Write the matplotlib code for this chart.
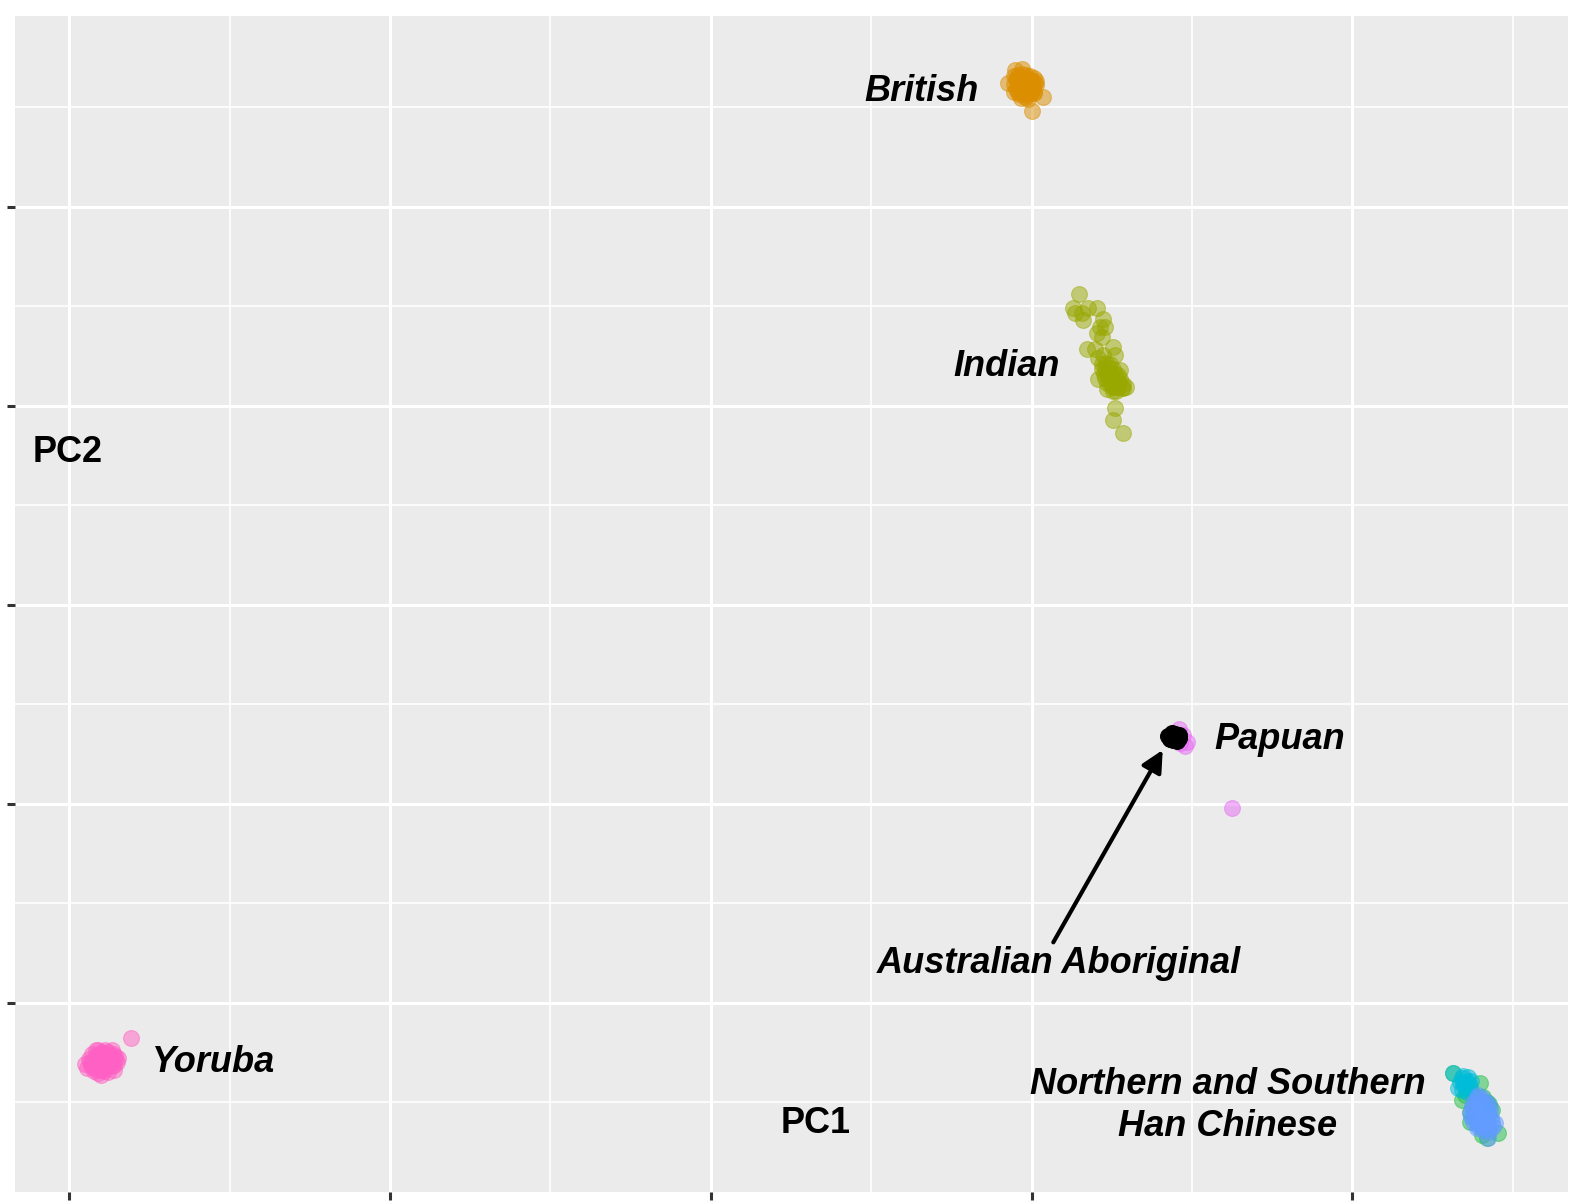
import matplotlib
matplotlib.use("Agg")
import matplotlib.pyplot as plt

plt.rcParams['font.family'] = ['Liberation Sans', 'DejaVu Sans']

# PC scores (x 1000)
british_x = [50.0, 51.8, 46.35, 47.4, 48.44, 47.3, 47.9, 48.5, 49.1, 49.7, 50.3, 47.5, 48.1, 48.7, 49.3, 49.9, 50.5,
             47.2, 47.8, 48.4, 49.0, 49.6, 50.2, 47.6, 48.2, 48.8, 49.4, 50.0, 48.0, 48.6, 49.2, 49.8, 48.4, 49.0, 49.5,
             50.6, 50.4, 50.7, 47.3, 47.7, 48.3, 48.9, 49.5, 50.1, 48.0, 48.6, 49.2, 49.8, 47.9, 48.5, 49.1, 49.7, 50.3]
british_y = [124.1, 127.7, 131.0, 134.4, 134.7, 132.8, 133.2, 133.4, 133.2, 132.8, 132.3, 132.0, 132.3, 132.0, 132.4, 131.9, 131.2,
             130.8, 130.7, 131.0, 130.5, 130.8, 130.0, 129.5, 129.7, 129.4, 129.6, 129.2, 128.4, 128.5, 128.2, 128.4, 127.3, 127.5, 127.2,
             130.5, 128.5, 131.5, 128.9, 131.5, 131.7, 131.5, 131.2, 131.0, 130.2, 130.0, 130.2, 130.1, 128.9, 128.8, 128.9, 129.0, 128.9]

indian_x = [57.42, 56.49, 56.75, 57.78, 58.04, 58.82, 60.23, 61.16, 60.64, 61.42, 60.12, 60.9, 58.56, 59.86, 62.72, 62.98,
            60.38, 61.16, 63.76, 60.28, 64.28, 62.98, 62.62, 64.28,
            61.0, 61.6, 62.2, 60.9, 61.5, 62.1, 62.7, 61.2, 61.8, 62.4, 63.0, 63.5, 61.4, 62.0, 62.6, 63.2, 63.8,
            61.8, 62.4, 63.0, 63.6, 64.2, 62.3, 62.9, 63.4, 64.0, 62.6, 63.2, 61.7, 64.7]
indian_y = [78.07, 74.64, 73.22, 73.22, 71.54, 74.47, 74.47, 71.71, 69.87, 69.87, 68.19, 67.35, 64.25, 64.25, 64.84, 62.74,
            61.91, 62.74, 58.98, 56.63, 54.53, 49.34, 46.41, 43.23,
            60.5, 60.8, 60.5, 59.2, 59.3, 59.4, 59.2, 58.0, 58.1, 58.0, 58.0, 57.8, 56.9, 56.9, 56.8, 56.8, 56.6,
            55.8, 55.8, 55.7, 55.6, 55.5, 54.9, 54.7, 54.6, 54.5, 53.8, 53.6, 54.2, 54.6]

han_s_x = [115.72, 119.87, 117.01, 120.91, 121.69, 118.31, 122.73, 120.91, 120.13, 118.31, 117.6, 118.6, 121.2, 120.4]
han_s_y = [-117.77, -120.12, -124.47, -124.89, -126.99, -129.92, -132.85, -134.1, -133.27, -127.4, -123.3, -122.6, -125.6, -123.6]

han_n_x = [115.72, 117.27, 118.05, 116.75, 117.53, 118.31, 117.01, 117.79, 116.49, 117.0, 117.9, 118.4, 117.3, 117.7, 118.2]
han_n_y = [-117.6, -118.36, -118.6, -119.86, -120.7, -121.1, -121.96, -122.4, -121.54, -119.0, -119.8, -119.7, -120.2, -121.4, -120.4]

chinese_x = [119.61, 118.83, 120.39, 118.31, 119.61, 121.17, 118.83, 120.13, 121.69, 119.35, 120.65, 121.95, 121.17, 122.21,
             119.2, 120.0, 120.8, 118.7, 119.3, 120.4, 121.5, 119.0, 119.9, 120.9, 120.5, 119.7, 120.9, 121.3,
             119.5, 120.2, 121.0, 118.6, 119.1, 119.8, 120.6, 121.4, 118.5, 119.4, 120.3, 121.1, 119.2, 120.0, 120.8, 121.6, 119.6, 120.4, 121.2]
chinese_y = [-123.22, -125.31, -125.73, -127.82, -127.4, -127.82, -129.92, -129.5, -129.92, -131.59, -131.59, -131.17, -134.1, -130.34,
             -124.3, -124.6, -124.9, -126.4, -126.2, -126.5, -126.3, -128.9, -128.5, -128.8, -130.6, -130.7, -130.5, -132.6,
             -123.8, -123.9, -125.2, -125.9, -127.0, -126.8, -127.1, -127.2, -128.7, -128.2, -128.0, -128.3, -129.6, -129.9, -129.2, -129.0, -131.0, -131.9, -131.8]

yoruba_x = [-90.38, -97.55, -97.3, -96.9, -96.5, -96.4, -96.2, -95.9, -95.5, -95.4, -95.2, -95.0, -94.9, -94.5, -94.4,
            -94.3, -94.0, -93.9, -93.5, -93.4, -93.3, -93.0, -92.8, -92.5, -92.4, -96.0, -95.0, -94.2, -95.6, -94.7, -93.7,
            -96.8, -96.3, -95.8, -95.3, -94.8, -94.3, -93.8, -93.2, -92.9, -96.6, -96.1, -95.5, -94.9, -94.4, -93.6, -93.1, -95.8, -95.2, -94.6]
yoruba_y = [-108.97, -115.4, -116.5, -114.2, -113.0, -115.6, -117.2, -112.0, -111.9, -114.0, -116.0, -118.2, -112.5, -111.9, -113.8,
            -115.6, -117.4, -112.4, -114.2, -116.0, -112.0, -117.0, -113.5, -115.0, -113.9, -116.8, -113.0, -114.7, -117.6, -116.6, -115.0,
            -115.0, -114.5, -113.3, -112.8, -113.6, -112.9, -113.2, -113.0, -114.2, -115.9, -115.2, -115.0, -115.3, -116.1, -115.5, -115.8, -116.2, -117.0, -117.2]

papuan_x = [81.27, 73.01, 74.15, 73.89, 73.11, 73.63]
papuan_y = [-51.18, -31.32, -34.42, -35.51, -34.84, -32.75]

aboriginal_x = [71.24, 71.81, 72.33, 73.01, 72.07, 71.55, 72.59, 73.01]
aboriginal_y = [-33.0, -32.33, -32.58, -33.58, -34.0, -33.83, -34.25, -32.75]

x_major = [-100, -50, 0, 50, 100]
x_minor = [-75, -25, 25, 75, 125]
y_major = [-100, -50, 0, 50, 100]
y_minor = [-125, -75, -25, 25, 75, 125]

fig = plt.figure(figsize=(15.8, 12.04), dpi=100)
ax = fig.add_axes([15 / 1580, 12 / 1204, 1553 / 1580, 1176 / 1204])
ax.set_facecolor('#EBEBEB')
for s in ax.spines.values():
    s.set_visible(False)
ax.set_xlim(-108.46, 133.59)
ax.set_ylim(-147.59, 147.94)
ax.set_xticks(x_major)
ax.set_yticks(y_major)
ax.set_xticks(x_minor, minor=True)
ax.set_yticks(y_minor, minor=True)
ax.set_xticklabels([])
ax.set_yticklabels([])
ax.tick_params(which='major', length=5.8, width=2.2, color='#333333')
ax.tick_params(which='minor', length=0)
ax.grid(which='major', color='white', linewidth=2.2)
ax.grid(which='minor', color='white', linewidth=1.2)
ax.set_axisbelow(True)

S = 130
def pts(x, y, c, alpha=0.5):
    ax.scatter(x, y, s=S, c=c, alpha=alpha, linewidths=0.8, edgecolors=c, zorder=3)

pts(british_x, british_y, '#DB8E00')
pts(indian_x, indian_y, '#99A800')
pts(han_s_x, han_s_y, '#1FBF45')
pts(han_n_x, han_n_y, '#00BCD8')
pts(chinese_x, chinese_y, '#619CFF')
pts(yoruba_x, yoruba_y, '#FF61C3')
pts(papuan_x, papuan_y, '#E76BF3')
pts(aboriginal_x, aboriginal_y, 'black', alpha=1)

ax.annotate('', xy=(70.42, -36.51), xytext=(53.37, -84.85),
            arrowprops=dict(arrowstyle='-|>,head_length=1.3,head_width=0.65', color='black',
                            lw=3.0, shrinkA=0, shrinkB=0, mutation_scale=10), zorder=4)

lab = dict(fontsize=26, fontweight='bold', fontstyle='italic', ha='center', va='center', color='black', zorder=5)
ax.text(32.8, 129.05, 'British', **lab)
ax.text(46.06, 59.81, 'Indian', **lab)
ax.text(88.6, -33.85, 'Papuan', **lab)
ax.text(54.2, -90.05, 'Australian Aboriginal', **lab)
ax.text(-77.5, -115.15, 'Yoruba', **lab)
ax.text(80.6, -125.95, 'Northern and Southern\nHan Chinese', linespacing=1.26, **lab)
ax.text(-100.2, 38.3, 'PC2', fontsize=26, fontweight='bold', ha='center', va='center')
ax.text(16.3, -130.5, 'PC1', fontsize=26, fontweight='bold', ha='center', va='center')

fig.savefig('out.png', dpi=100, facecolor='white')
